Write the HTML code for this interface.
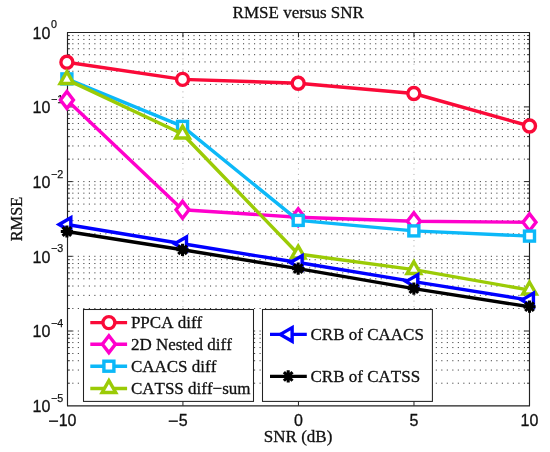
<!DOCTYPE html>
<html><head><meta charset="utf-8"><title>RMSE versus SNR</title>
<style>
html,body{margin:0;padding:0;background:#fff;}
svg{display:block;}
text{fill:#111;font-kerning:none;}
.tk{font-family:"Liberation Sans",sans-serif;font-size:16px;stroke:#111;stroke-width:0.3px;}
.mn{font-size:18px;}
.ex{font-family:"Liberation Sans",sans-serif;font-size:10.7px;stroke:#111;stroke-width:0.25px;}
.ti{font-family:"Liberation Serif",serif;font-size:17px;stroke:#111;stroke-width:0.3px;}
.lg{font-family:"Liberation Serif",serif;font-size:17px;stroke:#111;stroke-width:0.3px;}
</style></head><body>
<svg width="550" height="452" viewBox="0 0 550 452">
<rect width="550" height="452" fill="#fff"/>
<g stroke="#3c3c3c" stroke-width="1" stroke-dasharray="1.1 4.407" fill="none">
<line x1="72.31" y1="84.41" x2="528.50" y2="84.41"/>
<line x1="72.31" y1="71.26" x2="528.50" y2="71.26"/>
<line x1="72.31" y1="61.93" x2="528.50" y2="61.93"/>
<line x1="72.31" y1="54.69" x2="528.50" y2="54.69"/>
<line x1="72.31" y1="48.77" x2="528.50" y2="48.77"/>
<line x1="72.31" y1="43.77" x2="528.50" y2="43.77"/>
<line x1="72.31" y1="39.44" x2="528.50" y2="39.44"/>
<line x1="72.31" y1="35.62" x2="528.50" y2="35.62"/>
<line x1="72.31" y1="159.11" x2="528.50" y2="159.11"/>
<line x1="72.31" y1="145.96" x2="528.50" y2="145.96"/>
<line x1="72.31" y1="136.63" x2="528.50" y2="136.63"/>
<line x1="72.31" y1="129.39" x2="528.50" y2="129.39"/>
<line x1="72.31" y1="123.47" x2="528.50" y2="123.47"/>
<line x1="72.31" y1="118.47" x2="528.50" y2="118.47"/>
<line x1="72.31" y1="114.14" x2="528.50" y2="114.14"/>
<line x1="72.31" y1="110.32" x2="528.50" y2="110.32"/>
<line x1="72.31" y1="233.81" x2="528.50" y2="233.81"/>
<line x1="72.31" y1="220.66" x2="528.50" y2="220.66"/>
<line x1="72.31" y1="211.33" x2="528.50" y2="211.33"/>
<line x1="72.31" y1="204.09" x2="528.50" y2="204.09"/>
<line x1="72.31" y1="198.17" x2="528.50" y2="198.17"/>
<line x1="72.31" y1="193.17" x2="528.50" y2="193.17"/>
<line x1="72.31" y1="188.84" x2="528.50" y2="188.84"/>
<line x1="72.31" y1="185.02" x2="528.50" y2="185.02"/>
<line x1="72.31" y1="308.51" x2="528.50" y2="308.51"/>
<line x1="72.31" y1="295.36" x2="528.50" y2="295.36"/>
<line x1="72.31" y1="286.03" x2="528.50" y2="286.03"/>
<line x1="72.31" y1="278.79" x2="528.50" y2="278.79"/>
<line x1="72.31" y1="272.87" x2="528.50" y2="272.87"/>
<line x1="72.31" y1="267.87" x2="528.50" y2="267.87"/>
<line x1="72.31" y1="263.54" x2="528.50" y2="263.54"/>
<line x1="72.31" y1="259.72" x2="528.50" y2="259.72"/>
<line x1="72.31" y1="383.21" x2="528.50" y2="383.21"/>
<line x1="72.31" y1="370.06" x2="528.50" y2="370.06"/>
<line x1="72.31" y1="360.73" x2="528.50" y2="360.73"/>
<line x1="72.31" y1="353.49" x2="528.50" y2="353.49"/>
<line x1="72.31" y1="347.57" x2="528.50" y2="347.57"/>
<line x1="72.31" y1="342.57" x2="528.50" y2="342.57"/>
<line x1="72.31" y1="338.24" x2="528.50" y2="338.24"/>
<line x1="72.31" y1="334.42" x2="528.50" y2="334.42"/>
<line x1="72.31" y1="106.90" x2="528.50" y2="106.90"/>
<line x1="72.31" y1="181.60" x2="528.50" y2="181.60"/>
<line x1="72.31" y1="256.30" x2="528.50" y2="256.30"/>
<line x1="72.31" y1="331.00" x2="528.50" y2="331.00"/>
<line x1="182.93" y1="400.79" x2="182.93" y2="33.20" stroke="#b0b0b0"/>
<line x1="298.45" y1="400.79" x2="298.45" y2="33.20" stroke="#b0b0b0"/>
<line x1="413.98" y1="400.79" x2="413.98" y2="33.20" stroke="#b0b0b0"/>
</g>
<g stroke="#222" stroke-width="1" fill="none">
<line x1="67.4" y1="84.41" x2="69.80000000000001" y2="84.41"/>
<line x1="529.5" y1="84.41" x2="527.1" y2="84.41"/>
<line x1="67.4" y1="71.26" x2="69.80000000000001" y2="71.26"/>
<line x1="529.5" y1="71.26" x2="527.1" y2="71.26"/>
<line x1="67.4" y1="61.93" x2="69.80000000000001" y2="61.93"/>
<line x1="529.5" y1="61.93" x2="527.1" y2="61.93"/>
<line x1="67.4" y1="54.69" x2="69.80000000000001" y2="54.69"/>
<line x1="529.5" y1="54.69" x2="527.1" y2="54.69"/>
<line x1="67.4" y1="48.77" x2="69.80000000000001" y2="48.77"/>
<line x1="529.5" y1="48.77" x2="527.1" y2="48.77"/>
<line x1="67.4" y1="43.77" x2="69.80000000000001" y2="43.77"/>
<line x1="529.5" y1="43.77" x2="527.1" y2="43.77"/>
<line x1="67.4" y1="39.44" x2="69.80000000000001" y2="39.44"/>
<line x1="529.5" y1="39.44" x2="527.1" y2="39.44"/>
<line x1="67.4" y1="35.62" x2="69.80000000000001" y2="35.62"/>
<line x1="529.5" y1="35.62" x2="527.1" y2="35.62"/>
<line x1="67.4" y1="159.11" x2="69.80000000000001" y2="159.11"/>
<line x1="529.5" y1="159.11" x2="527.1" y2="159.11"/>
<line x1="67.4" y1="145.96" x2="69.80000000000001" y2="145.96"/>
<line x1="529.5" y1="145.96" x2="527.1" y2="145.96"/>
<line x1="67.4" y1="136.63" x2="69.80000000000001" y2="136.63"/>
<line x1="529.5" y1="136.63" x2="527.1" y2="136.63"/>
<line x1="67.4" y1="129.39" x2="69.80000000000001" y2="129.39"/>
<line x1="529.5" y1="129.39" x2="527.1" y2="129.39"/>
<line x1="67.4" y1="123.47" x2="69.80000000000001" y2="123.47"/>
<line x1="529.5" y1="123.47" x2="527.1" y2="123.47"/>
<line x1="67.4" y1="118.47" x2="69.80000000000001" y2="118.47"/>
<line x1="529.5" y1="118.47" x2="527.1" y2="118.47"/>
<line x1="67.4" y1="114.14" x2="69.80000000000001" y2="114.14"/>
<line x1="529.5" y1="114.14" x2="527.1" y2="114.14"/>
<line x1="67.4" y1="110.32" x2="69.80000000000001" y2="110.32"/>
<line x1="529.5" y1="110.32" x2="527.1" y2="110.32"/>
<line x1="67.4" y1="233.81" x2="69.80000000000001" y2="233.81"/>
<line x1="529.5" y1="233.81" x2="527.1" y2="233.81"/>
<line x1="67.4" y1="220.66" x2="69.80000000000001" y2="220.66"/>
<line x1="529.5" y1="220.66" x2="527.1" y2="220.66"/>
<line x1="67.4" y1="211.33" x2="69.80000000000001" y2="211.33"/>
<line x1="529.5" y1="211.33" x2="527.1" y2="211.33"/>
<line x1="67.4" y1="204.09" x2="69.80000000000001" y2="204.09"/>
<line x1="529.5" y1="204.09" x2="527.1" y2="204.09"/>
<line x1="67.4" y1="198.17" x2="69.80000000000001" y2="198.17"/>
<line x1="529.5" y1="198.17" x2="527.1" y2="198.17"/>
<line x1="67.4" y1="193.17" x2="69.80000000000001" y2="193.17"/>
<line x1="529.5" y1="193.17" x2="527.1" y2="193.17"/>
<line x1="67.4" y1="188.84" x2="69.80000000000001" y2="188.84"/>
<line x1="529.5" y1="188.84" x2="527.1" y2="188.84"/>
<line x1="67.4" y1="185.02" x2="69.80000000000001" y2="185.02"/>
<line x1="529.5" y1="185.02" x2="527.1" y2="185.02"/>
<line x1="67.4" y1="308.51" x2="69.80000000000001" y2="308.51"/>
<line x1="529.5" y1="308.51" x2="527.1" y2="308.51"/>
<line x1="67.4" y1="295.36" x2="69.80000000000001" y2="295.36"/>
<line x1="529.5" y1="295.36" x2="527.1" y2="295.36"/>
<line x1="67.4" y1="286.03" x2="69.80000000000001" y2="286.03"/>
<line x1="529.5" y1="286.03" x2="527.1" y2="286.03"/>
<line x1="67.4" y1="278.79" x2="69.80000000000001" y2="278.79"/>
<line x1="529.5" y1="278.79" x2="527.1" y2="278.79"/>
<line x1="67.4" y1="272.87" x2="69.80000000000001" y2="272.87"/>
<line x1="529.5" y1="272.87" x2="527.1" y2="272.87"/>
<line x1="67.4" y1="267.87" x2="69.80000000000001" y2="267.87"/>
<line x1="529.5" y1="267.87" x2="527.1" y2="267.87"/>
<line x1="67.4" y1="263.54" x2="69.80000000000001" y2="263.54"/>
<line x1="529.5" y1="263.54" x2="527.1" y2="263.54"/>
<line x1="67.4" y1="259.72" x2="69.80000000000001" y2="259.72"/>
<line x1="529.5" y1="259.72" x2="527.1" y2="259.72"/>
<line x1="67.4" y1="383.21" x2="69.80000000000001" y2="383.21"/>
<line x1="529.5" y1="383.21" x2="527.1" y2="383.21"/>
<line x1="67.4" y1="370.06" x2="69.80000000000001" y2="370.06"/>
<line x1="529.5" y1="370.06" x2="527.1" y2="370.06"/>
<line x1="67.4" y1="360.73" x2="69.80000000000001" y2="360.73"/>
<line x1="529.5" y1="360.73" x2="527.1" y2="360.73"/>
<line x1="67.4" y1="353.49" x2="69.80000000000001" y2="353.49"/>
<line x1="529.5" y1="353.49" x2="527.1" y2="353.49"/>
<line x1="67.4" y1="347.57" x2="69.80000000000001" y2="347.57"/>
<line x1="529.5" y1="347.57" x2="527.1" y2="347.57"/>
<line x1="67.4" y1="342.57" x2="69.80000000000001" y2="342.57"/>
<line x1="529.5" y1="342.57" x2="527.1" y2="342.57"/>
<line x1="67.4" y1="338.24" x2="69.80000000000001" y2="338.24"/>
<line x1="529.5" y1="338.24" x2="527.1" y2="338.24"/>
<line x1="67.4" y1="334.42" x2="69.80000000000001" y2="334.42"/>
<line x1="529.5" y1="334.42" x2="527.1" y2="334.42"/>
<line x1="67.4" y1="106.90" x2="72.4" y2="106.90"/>
<line x1="529.5" y1="106.90" x2="524.5" y2="106.90"/>
<line x1="67.4" y1="181.60" x2="72.4" y2="181.60"/>
<line x1="529.5" y1="181.60" x2="524.5" y2="181.60"/>
<line x1="67.4" y1="256.30" x2="72.4" y2="256.30"/>
<line x1="529.5" y1="256.30" x2="524.5" y2="256.30"/>
<line x1="67.4" y1="331.00" x2="72.4" y2="331.00"/>
<line x1="529.5" y1="331.00" x2="524.5" y2="331.00"/>
<line x1="182.93" y1="32.2" x2="182.93" y2="37.2"/>
<line x1="182.93" y1="405.7" x2="182.93" y2="400.7"/>
<line x1="298.45" y1="32.2" x2="298.45" y2="37.2"/>
<line x1="298.45" y1="405.7" x2="298.45" y2="400.7"/>
<line x1="413.98" y1="32.2" x2="413.98" y2="37.2"/>
<line x1="413.98" y1="405.7" x2="413.98" y2="400.7"/>
</g>
<path d="M67.5 32.4V405.8M529.5 32.4V405.8M67 32.45H530M67 405.85H530" fill="none" stroke="#222" stroke-width="1.15"/>
<text x="50.3" y="38.50" class="tk" text-anchor="end">10</text>
<text x="50.9" y="28.30" class="ex">0</text>
<text x="50.3" y="113.20" class="tk" text-anchor="end">10</text>
<text x="50.9" y="103.00" class="ex">−1</text>
<text x="50.3" y="187.90" class="tk" text-anchor="end">10</text>
<text x="50.9" y="177.70" class="ex">−2</text>
<text x="50.3" y="262.60" class="tk" text-anchor="end">10</text>
<text x="50.9" y="252.40" class="ex">−3</text>
<text x="50.3" y="337.30" class="tk" text-anchor="end">10</text>
<text x="50.9" y="327.10" class="ex">−4</text>
<text x="50.3" y="412.00" class="tk" text-anchor="end">10</text>
<text x="50.9" y="401.80" class="ex">−5</text>
<text x="62.30" y="425.8" class="tk" text-anchor="middle"><tspan class="mn" dy="1.2">−</tspan><tspan dy="-1.2">10</tspan></text>
<text x="177.83" y="425.8" class="tk" text-anchor="middle"><tspan class="mn" dy="1.2">−</tspan><tspan dy="-1.2">5</tspan></text>
<text x="298.45" y="425.8" class="tk" text-anchor="middle">0</text>
<text x="413.98" y="425.8" class="tk" text-anchor="middle">5</text>
<text x="529.50" y="425.8" class="tk" text-anchor="middle">10</text>
<text x="298.25" y="18.3" class="ti" text-anchor="middle">RMSE versus SNR</text>
<text x="298.1" y="442.0" class="ti" text-anchor="middle">SNR (dB)</text>
<text transform="translate(22.1 219) rotate(-90)" class="ti" style="font-size:16.4px" text-anchor="middle">RMSE</text>
<polyline points="66.90,62.20 182.55,79.40 298.20,83.20 413.85,93.50 529.50,126.00" fill="none" stroke="#fa0a38" stroke-width="3.4" stroke-linejoin="round"/>
<circle cx="66.90" cy="62.20" r="6.0" fill="#fff" stroke="#fa0a38" stroke-width="3.4"/>
<circle cx="182.55" cy="79.40" r="6.0" fill="#fff" stroke="#fa0a38" stroke-width="3.4"/>
<circle cx="298.20" cy="83.20" r="6.0" fill="#fff" stroke="#fa0a38" stroke-width="3.4"/>
<circle cx="413.85" cy="93.50" r="6.0" fill="#fff" stroke="#fa0a38" stroke-width="3.4"/>
<circle cx="529.50" cy="126.00" r="6.0" fill="#fff" stroke="#fa0a38" stroke-width="3.4"/>
<polyline points="66.90,100.00 182.55,209.80 298.20,217.20 413.85,221.30 529.50,222.30" fill="none" stroke="#ff00cc" stroke-width="3.4" stroke-linejoin="round"/>
<path d="M66.90 91.60L73.40 100.00L66.90 108.40L60.40 100.00Z" fill="#fff" stroke="#ff00cc" stroke-width="3.4" stroke-linejoin="miter"/>
<path d="M182.55 201.40L189.05 209.80L182.55 218.20L176.05 209.80Z" fill="#fff" stroke="#ff00cc" stroke-width="3.4" stroke-linejoin="miter"/>
<path d="M298.20 208.80L304.70 217.20L298.20 225.60L291.70 217.20Z" fill="#fff" stroke="#ff00cc" stroke-width="3.4" stroke-linejoin="miter"/>
<path d="M413.85 212.90L420.35 221.30L413.85 229.70L407.35 221.30Z" fill="#fff" stroke="#ff00cc" stroke-width="3.4" stroke-linejoin="miter"/>
<path d="M529.50 213.90L536.00 222.30L529.50 230.70L523.00 222.30Z" fill="#fff" stroke="#ff00cc" stroke-width="3.4" stroke-linejoin="miter"/>
<polyline points="66.90,78.90 182.55,126.40 298.20,220.40 413.85,230.90 529.50,236.10" fill="none" stroke="#0cb8f8" stroke-width="3.4" stroke-linejoin="round"/>
<rect x="61.90" y="73.90" width="10.0" height="10.0" fill="#fff" stroke="#0cb8f8" stroke-width="3.4"/>
<rect x="177.55" y="121.40" width="10.0" height="10.0" fill="#fff" stroke="#0cb8f8" stroke-width="3.4"/>
<rect x="293.20" y="215.40" width="10.0" height="10.0" fill="#fff" stroke="#0cb8f8" stroke-width="3.4"/>
<rect x="408.85" y="225.90" width="10.0" height="10.0" fill="#fff" stroke="#0cb8f8" stroke-width="3.4"/>
<rect x="524.50" y="231.10" width="10.0" height="10.0" fill="#fff" stroke="#0cb8f8" stroke-width="3.4"/>
<polyline points="66.90,79.60 182.55,134.00 298.20,254.00 413.85,269.60 529.50,290.10" fill="none" stroke="#9bcb06" stroke-width="3.4" stroke-linejoin="round"/>
<path d="M66.90 71.75L73.70 83.53L60.10 83.53Z" fill="#fff" stroke="#9bcb06" stroke-width="3.4" stroke-linejoin="miter"/>
<path d="M182.55 126.15L189.35 137.93L175.75 137.93Z" fill="#fff" stroke="#9bcb06" stroke-width="3.4" stroke-linejoin="miter"/>
<path d="M298.20 246.15L305.00 257.93L291.40 257.93Z" fill="#fff" stroke="#9bcb06" stroke-width="3.4" stroke-linejoin="miter"/>
<path d="M413.85 261.75L420.65 273.53L407.05 273.53Z" fill="#fff" stroke="#9bcb06" stroke-width="3.4" stroke-linejoin="miter"/>
<path d="M529.50 282.25L536.30 294.03L522.70 294.03Z" fill="#fff" stroke="#9bcb06" stroke-width="3.4" stroke-linejoin="miter"/>
<polyline points="66.90,224.50 182.55,243.80 298.20,262.50 413.85,281.60 529.50,300.10" fill="none" stroke="#0000ff" stroke-width="3.4" stroke-linejoin="round"/>
<path d="M59.05 224.50L70.83 217.70L70.83 231.30Z" fill="#fff" stroke="#0000ff" stroke-width="3.4" stroke-linejoin="miter"/>
<path d="M174.70 243.80L186.48 237.00L186.48 250.60Z" fill="#fff" stroke="#0000ff" stroke-width="3.4" stroke-linejoin="miter"/>
<path d="M290.35 262.50L302.13 255.70L302.13 269.30Z" fill="#fff" stroke="#0000ff" stroke-width="3.4" stroke-linejoin="miter"/>
<path d="M406.00 281.60L417.78 274.80L417.78 288.40Z" fill="#fff" stroke="#0000ff" stroke-width="3.4" stroke-linejoin="miter"/>
<path d="M521.65 300.10L533.43 293.30L533.43 306.90Z" fill="#fff" stroke="#0000ff" stroke-width="3.4" stroke-linejoin="miter"/>
<polyline points="66.90,231.50 182.55,249.80 298.20,268.60 413.85,288.70 529.50,306.70" fill="none" stroke="#000000" stroke-width="3.4" stroke-linejoin="round"/>
<path d="M60.80 231.50L73.00 231.50M62.59 227.19L71.21 235.81M66.90 225.40L66.90 237.60M71.21 227.19L62.59 235.81" fill="none" stroke="#000000" stroke-width="3.05"/>
<path d="M176.45 249.80L188.65 249.80M178.24 245.49L186.86 254.11M182.55 243.70L182.55 255.90M186.86 245.49L178.24 254.11" fill="none" stroke="#000000" stroke-width="3.05"/>
<path d="M292.10 268.60L304.30 268.60M293.89 264.29L302.51 272.91M298.20 262.50L298.20 274.70M302.51 264.29L293.89 272.91" fill="none" stroke="#000000" stroke-width="3.05"/>
<path d="M407.75 288.70L419.95 288.70M409.54 284.39L418.16 293.01M413.85 282.60L413.85 294.80M418.16 284.39L409.54 293.01" fill="none" stroke="#000000" stroke-width="3.05"/>
<path d="M523.40 306.70L535.60 306.70M525.19 302.39L533.81 311.01M529.50 300.60L529.50 312.80M533.81 302.39L525.19 311.01" fill="none" stroke="#000000" stroke-width="3.05"/>
<rect x="83.5" y="309.5" width="170.0" height="91.89999999999998" fill="#fff" stroke="#222" stroke-width="1.05"/>
<line x1="90.3" y1="322.6" x2="127.1" y2="322.6" stroke="#fa0a38" stroke-width="3.4"/>
<circle cx="108.90" cy="322.60" r="6.0" fill="#fff" stroke="#fa0a38" stroke-width="3.4"/>
<text x="130.9" y="328.00" class="lg">PPCA diff</text>
<line x1="90.3" y1="344.2" x2="127.1" y2="344.2" stroke="#ff00cc" stroke-width="3.4"/>
<path d="M108.90 335.80L115.40 344.20L108.90 352.60L102.40 344.20Z" fill="#fff" stroke="#ff00cc" stroke-width="3.4" stroke-linejoin="miter"/>
<text x="130.9" y="349.60" class="lg">2D Nested diff</text>
<line x1="90.3" y1="366.2" x2="127.1" y2="366.2" stroke="#0cb8f8" stroke-width="3.4"/>
<rect x="103.90" y="361.20" width="10.0" height="10.0" fill="#fff" stroke="#0cb8f8" stroke-width="3.4"/>
<text x="130.9" y="371.60" class="lg">CAACS diff</text>
<line x1="90.3" y1="388.5" x2="127.1" y2="388.5" stroke="#9bcb06" stroke-width="3.4"/>
<path d="M108.90 380.65L115.70 392.43L102.10 392.43Z" fill="#fff" stroke="#9bcb06" stroke-width="3.4" stroke-linejoin="miter"/>
<text x="130.9" y="393.90" class="lg">CATSS diff−sum</text>
<rect x="262.5" y="309.5" width="169.89999999999998" height="91.89999999999998" fill="#fff" stroke="#222" stroke-width="1.05"/>
<line x1="270.0" y1="334.4" x2="306.8" y2="334.4" stroke="#0000ff" stroke-width="3.4"/>
<path d="M280.35 334.40L292.13 327.60L292.13 341.20Z" fill="#fff" stroke="#0000ff" stroke-width="3.4" stroke-linejoin="miter"/>
<text x="310.5" y="340.00" class="lg">CRB of CAACS</text>
<line x1="270.0" y1="376.4" x2="306.8" y2="376.4" stroke="#000000" stroke-width="3.4"/>
<path d="M282.10 376.40L294.30 376.40M283.89 372.09L292.51 380.71M288.20 370.30L288.20 382.50M292.51 372.09L283.89 380.71" fill="none" stroke="#000000" stroke-width="3.05"/>
<text x="310.5" y="382.00" class="lg">CRB of CATSS</text>
</svg>
</body></html>
